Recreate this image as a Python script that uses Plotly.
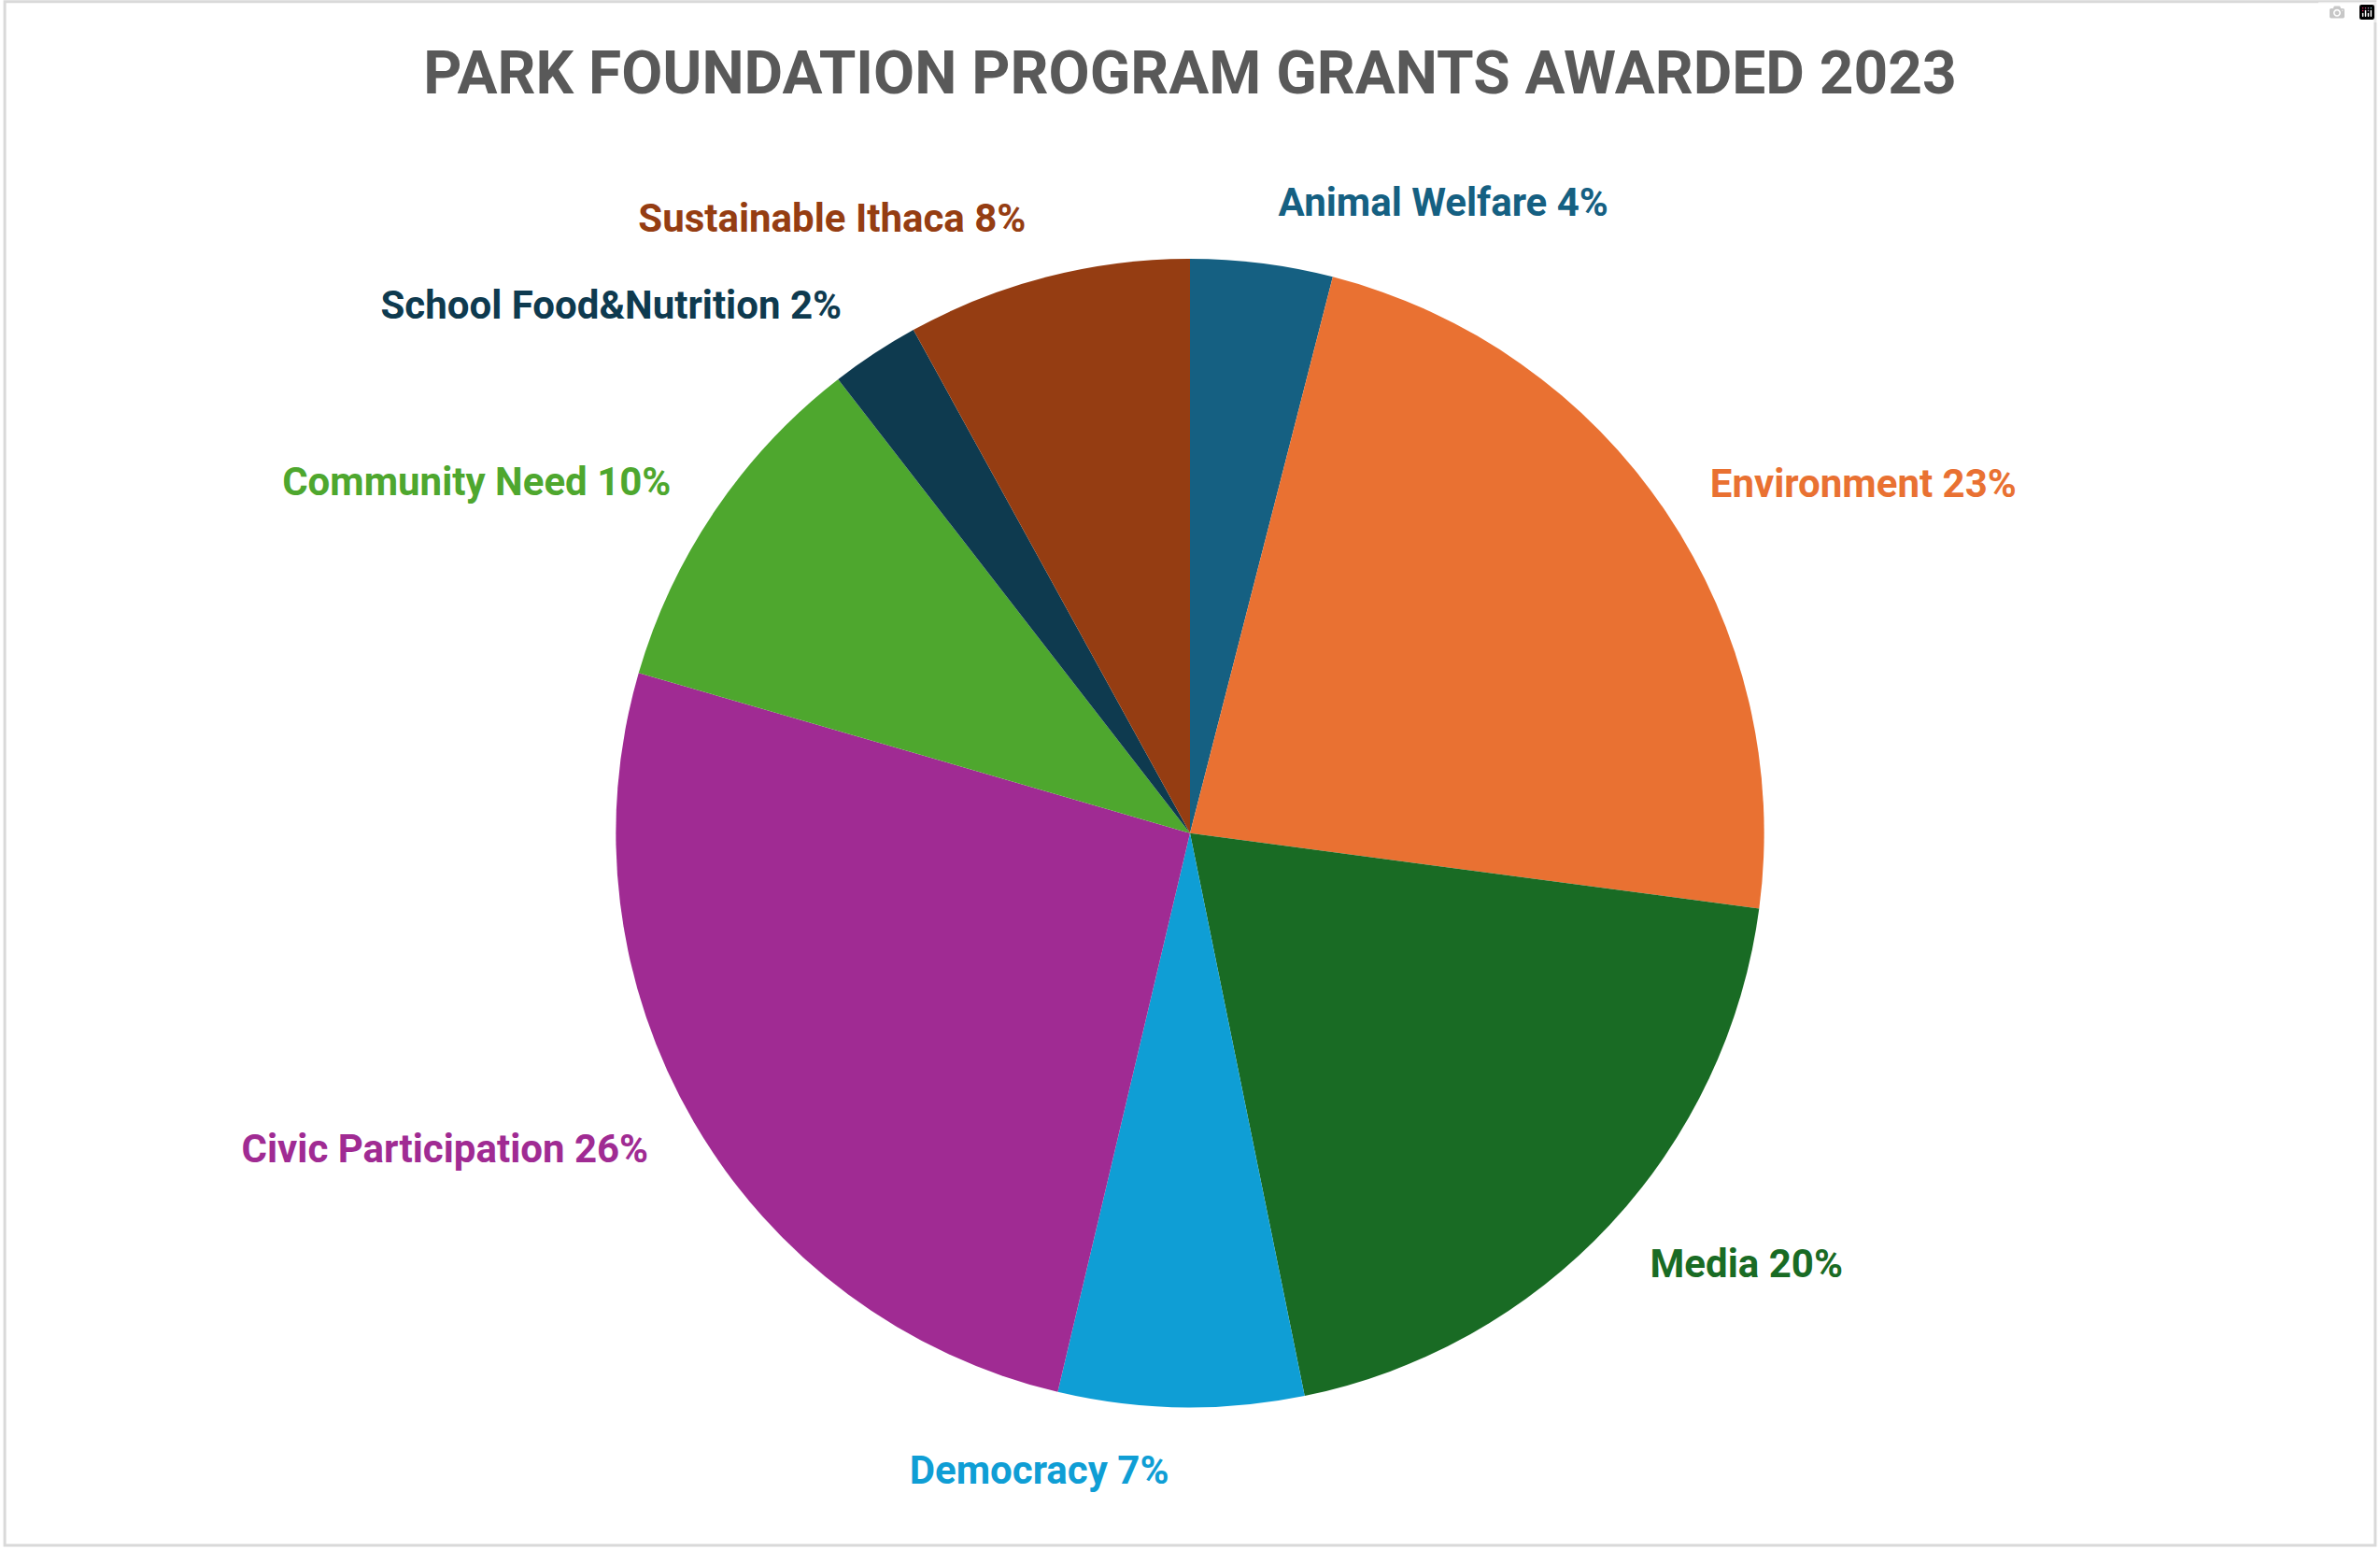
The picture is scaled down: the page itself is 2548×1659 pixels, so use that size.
import plotly.graph_objects as go

# grant share by program area, clockwise from 12 o'clock
programs = ['Animal Welfare', 'Environment', 'Media', 'Democracy',
            'Civic Participation', 'Community Need', 'School Food&Nutrition',
            'Sustainable Ithaca']
shares = [4.0, 23.1, 19.7, 6.9, 25.8, 10.0, 2.5, 8.0]
shown_pct = ['4%', '23%', '20%', '7%', '26%', '10%', '2%', '8%']
colors = ['#156082', '#E97132', '#196B24', '#0F9ED5',
          '#A02B93', '#4EA72E', '#0E3A4F', '#953D12']

labels_text = [f'{p} {s}' for p, s in zip(programs, shown_pct)]

fig = go.Figure()

# visible pie
fig.add_trace(go.Pie(
    labels=programs,
    values=shares,
    textinfo='none',
    sort=False,
    direction='clockwise',
    rotation=0,
    marker=dict(colors=colors, line=dict(width=0)),
    domain=dict(x=[0, 1], y=[0.092, 0.833]),
    showlegend=False,
    automargin=False,
    hoverinfo='label+percent',
))

# same data on a slightly wider, transparent pie so the labels sit
# a little further from the edge, like Excel's outside labels
fig.add_trace(go.Pie(
    labels=programs,
    values=shares,
    text=labels_text,
    textinfo='text',
    textposition='outside',
    sort=False,
    direction='clockwise',
    rotation=0,
    marker=dict(colors=['rgba(0,0,0,0)'] * len(programs), line=dict(width=0)),
    outsidetextfont=dict(family='Roboto', size=42, color=colors, weight='bold'),
    domain=dict(x=[0, 1], y=[0.066, 0.858]),
    showlegend=False,
    automargin=False,
    hoverinfo='skip',
))

fig.update_layout(
    width=2548,
    height=1659,
    margin=dict(l=0, r=0, t=0, b=0, autoexpand=False),
    paper_bgcolor='white',
    showlegend=False,
    title=dict(
        text='<b>PARK FOUNDATION PROGRAM GRANTS AWARDED 2023</b>',
        x=0.5, xanchor='center',
        y=0.953, yanchor='middle',
        font=dict(family='Roboto', size=64, color='#595959'),
    ),
    shapes=[dict(type='rect', xref='paper', yref='paper',
                 x0=0.002, x1=0.998, y0=0.003, y1=0.999,
                 line=dict(color='#D9D9D9', width=3))],
)

fig.write_html('out.html', post_script="document.body.style.margin='0';")
